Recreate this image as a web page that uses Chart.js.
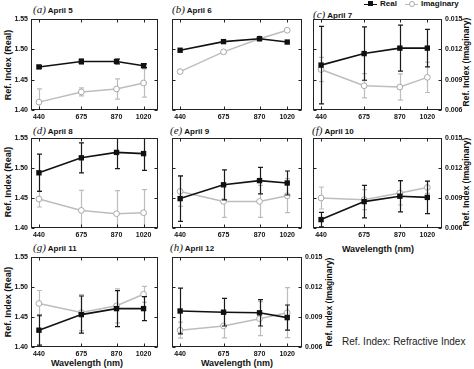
<!DOCTYPE html>
<html><head><meta charset="utf-8">
<script src="https://cdn.jsdelivr.net/npm/chart.js@4"></script>
<style>
html,body{margin:0;padding:0;background:#fff;}
#wrap{position:relative;width:474px;height:369px;overflow:hidden;font-family:"Liberation Sans",Arial,sans-serif;color:#111;}
canvas{position:absolute;left:0;top:0;}
.t{position:absolute;white-space:nowrap;line-height:1;}
.pt{font-weight:bold;font-size:8px;transform:translateY(-50%);}
.pt i{font-family:"Liberation Serif",serif;font-weight:normal;font-size:11px;margin-right:2px;}
.yt{font-weight:bold;font-size:9px;transform:translate(-50%,-50%) rotate(-90deg);}
.yr{font-size:8.5px;}
.xt{font-weight:bold;font-size:9px;transform:translate(-50%,-50%);}
.lg{font-weight:bold;font-size:8px;transform:translateY(-50%);display:flex;align-items:center;}
.ln{display:inline-block;position:relative;width:13px;height:0;border-top:1.5px solid #111;margin-right:3px;}
.ln span{position:absolute;left:4px;top:-4px;width:5px;height:5px;}
</style></head>
<body><div id="wrap">
<div class="t pt" style="left:33px;top:9px"><i>(a)</i>April 5</div>
<div class="t pt" style="left:172px;top:9px"><i>(b)</i>April 6</div>
<div class="t pt" style="left:313px;top:13.5px"><i>(c)</i>April 7</div>
<div class="t pt" style="left:33px;top:130px"><i>(d)</i>April 8</div>
<div class="t pt" style="left:170px;top:130px"><i>(e)</i>April 9</div>
<div class="t pt" style="left:312px;top:130px"><i>(f)</i>April 10</div>
<div class="t pt" style="left:33px;top:247px"><i>(g)</i>April 11</div>
<div class="t pt" style="left:170px;top:247px"><i>(h)</i>April 12</div>

<div class="t lg" style="left:364px;top:4px"><span class="ln"><span style="background:#111"></span></span>Real</div>
<div class="t lg" style="left:405px;top:4px"><span class="ln" style="border-top-color:#bbb"><span style="background:#fff;border:1px solid #aaa;border-radius:50%;width:4px;height:4px;left:3.5px;top:-4px"></span></span>Imaginary</div>

<div class="t yt" style="left:8px;top:65px">Ref. Index (Real)</div>
<div class="t yt" style="left:8px;top:182px">Ref. Index (Real)</div>
<div class="t yt" style="left:8px;top:302px">Ref. Index (Real)</div>
<div class="t yt yr" style="left:466px;top:62px">Ref. Index (Imaginary)</div>
<div class="t yt yr" style="left:466px;top:182px">Ref. Index (Imaginary)</div>
<div class="t yt yr" style="left:329px;top:302px">Ref. Index (Imaginary)</div>

<div class="t xt" style="left:378px;top:249px">Wavelength (nm)</div>
<div class="t xt" style="left:87px;top:363px">Wavelength (nm)</div>
<div class="t xt" style="left:237px;top:363px">Wavelength (nm)</div>

<div class="t" style="left:342px;top:337px;font-size:10px;color:#222">Ref. Index: Refractive Index</div>
</div>
<script>
// ---- data ----
const wavelengths = [440, 675, 870, 1020];
const realTicks = [1.40, 1.45, 1.50, 1.55];
const imagTicks = [0.006, 0.009, 0.012, 0.015];

const real_a = [1.471, 1.480, 1.480, 1.473];
const realErr_a = [0.002, 0.004, 0.004, 0.003];
const imag_a = [0.00678, 0.00779, 0.00808, 0.00867];
const imagErr_a = [0.0013, 0.0004, 0.0010, 0.0014];

const real_b = [1.4985, 1.5127, 1.5175, 1.512];
const realErr_b = [0, 0, 0, 0];
const imag_b = [0.0098, 0.01175, 0.01305, 0.01389];
const imagErr_b = [0, 0, 0, 0];

const real_c = [1.474, 1.493, 1.502, 1.502];
const realErr_c = [0.064, 0.044, 0.038, 0.031];
const imag_c = [0.0100, 0.0084, 0.00827, 0.00923];
const imagErr_c = [0.0012, 0.0012, 0.0013, 0.0015];

const real_d = [1.492, 1.517, 1.526, 1.524];
const realErr_d = [0.031, 0.025, 0.027, 0.028];
const imag_d = [0.0089, 0.00776, 0.00743, 0.00753];
const imagErr_d = [0.0008, 0.0020, 0.0023, 0.0023];

const real_e = [1.449, 1.472, 1.479, 1.475];
const realErr_e = [0.038, 0.025, 0.022, 0.020];
const imag_e = [0.00966, 0.00866, 0.00866, 0.00923];
const imagErr_e = [0.0015, 0.0016, 0.0016, 0.0017];

const real_f = [1.414, 1.444, 1.453, 1.451];
const realErr_f = [0.012, 0.027, 0.026, 0.027];
const imag_f = [0.0090, 0.00883, 0.0095, 0.01006];
const imagErr_f = [0.0011, 0.0010, 0.0012, 0.0006];

const real_g = [1.428, 1.454, 1.464, 1.464];
const realErr_g = [0.025, 0.031, 0.030, 0.020];
const imag_g = [0.01035, 0.00944, 0.01012, 0.01127];
const imagErr_g = [0.0013, 0.0018, 0.0017, 0.0008];

const real_h = [1.460, 1.458, 1.457, 1.449];
const realErr_h = [0.038, 0.023, 0.022, 0.021];
const imag_h = [0.00768, 0.00811, 0.00883, 0.00943];
const imagErr_h = [0.0008, 0.0012, 0.0017, 0.0025];

// ---- layout (plot rectangles) ----
const W = 474, H = 369;
const colX = [[31, 158], [172, 302], [313, 442]];
const rowY = [[19, 110], [138, 228], [257, 347]];
const panels = [
  {real: real_a, rErr: realErr_a, imag: imag_a, iErr: imagErr_a, c: 0, r: 0, yL: true,  yR: false},
  {real: real_b, rErr: realErr_b, imag: imag_b, iErr: imagErr_b, c: 1, r: 0, yL: false, yR: false},
  {real: real_c, rErr: realErr_c, imag: imag_c, iErr: imagErr_c, c: 2, r: 0, yL: false, yR: true},
  {real: real_d, rErr: realErr_d, imag: imag_d, iErr: imagErr_d, c: 0, r: 1, yL: true,  yR: false},
  {real: real_e, rErr: realErr_e, imag: imag_e, iErr: imagErr_e, c: 1, r: 1, yL: false, yR: false},
  {real: real_f, rErr: realErr_f, imag: imag_f, iErr: imagErr_f, c: 2, r: 1, yL: false, yR: true},
  {real: real_g, rErr: realErr_g, imag: imag_g, iErr: imagErr_g, c: 0, r: 2, yL: true,  yR: false},
  {real: real_h, rErr: realErr_h, imag: imag_h, iErr: imagErr_h, c: 1, r: 2, yL: false, yR: true}
];

const FONT = "'Liberation Sans', Arial, sans-serif";

const errPlugin = {
  id: 'errbars',
  beforeDatasetDraw(chart, args) {
    const ds = chart.data.datasets[args.index];
    if (!ds.errors) return;
    const {ctx, chartArea: a} = chart;
    const xs = chart.scales.x, ys = chart.scales[ds.yAxisID];
    ctx.save();
    ctx.beginPath(); ctx.rect(a.left, a.top, a.right - a.left, a.bottom - a.top); ctx.clip();
    ctx.strokeStyle = ds.errColor; ctx.lineWidth = 1.2;
    ds.data.forEach((p, j) => {
      const e = ds.errors[j];
      if (!e) return;
      const x = Math.round(xs.getPixelForValue(p.x)) + 0.5;
      const y1 = ys.getPixelForValue(p.y + e), y2 = ys.getPixelForValue(p.y - e);
      ctx.beginPath();
      ctx.moveTo(x, y1); ctx.lineTo(x, y2);
      ctx.moveTo(x - 2.5, y1); ctx.lineTo(x + 2.5, y1);
      ctx.moveTo(x - 2.5, y2); ctx.lineTo(x + 2.5, y2);
      ctx.stroke();
    });
    ctx.restore();
  }
};

const framePlugin = {
  id: 'frame',
  afterDraw(chart) {
    const {ctx, chartArea: a} = chart;
    const xs = chart.scales.x, yl = chart.scales.y, yr = chart.scales.y1;
    ctx.save();
    ctx.strokeStyle = '#222'; ctx.lineWidth = 1;
    const L = Math.round(a.left) + 0.5, R = Math.round(a.right) - 0.5;
    const T = Math.round(a.top) + 0.5, B = Math.round(a.bottom) - 0.5;
    ctx.strokeRect(L, T, R - L, B - T);
    ctx.beginPath();
    const tl = 3;
    wavelengths.forEach(v => {
      const x = Math.round(xs.getPixelForValue(v)) + 0.5;
      ctx.moveTo(x, T); ctx.lineTo(x, T + tl);
      ctx.moveTo(x, B); ctx.lineTo(x, B - tl);
    });
    realTicks.forEach(v => {
      const y = Math.round(yl.getPixelForValue(v)) + 0.5;
      ctx.moveTo(L, y); ctx.lineTo(L + tl, y);
    });
    imagTicks.forEach(v => {
      const y = Math.round(yr.getPixelForValue(v)) + 0.5;
      ctx.moveTo(R, y); ctx.lineTo(R - tl, y);
    });
    ctx.stroke();
    ctx.restore();
  }
};

const tickFont = {family: FONT, size: 7, weight: 'bold'};
const AXW = 30, AXH = 12;

panels.forEach(p => {
  const cv = document.createElement('canvas');
  cv.width = W; cv.height = H;
  cv.style.width = W + 'px'; cv.style.height = H + 'px';
  document.getElementById('wrap').appendChild(cv);
  const [L, R] = colX[p.c], [T, B] = rowY[p.r];
  const lw = Math.min(AXW, L), rw = Math.min(AXW, W - R);
  new Chart(cv, {
    type: 'line',
    data: {
      datasets: [
        {
          label: 'Real', yAxisID: 'y',
          data: wavelengths.map((x, i) => ({x, y: p.real[i]})),
          errors: p.rErr, errColor: '#1a1a1a',
          borderColor: '#111', backgroundColor: '#111', borderWidth: 1.6,
          pointStyle: 'rect', pointRadius: 3.8, pointBorderWidth: 0,
          pointBackgroundColor: '#111', tension: 0
        },
        {
          label: 'Imaginary', yAxisID: 'y1',
          data: wavelengths.map((x, i) => ({x, y: p.imag[i]})),
          errors: p.iErr, errColor: '#bdbdbd',
          borderColor: '#bdbdbd', backgroundColor: '#fff', borderWidth: 1.5,
          pointStyle: 'circle', pointRadius: 2.9, pointBorderWidth: 1,
          pointBorderColor: '#a8a8a8', pointBackgroundColor: '#fff', tension: 0
        }
      ]
    },
    options: {
      responsive: false, animation: false, devicePixelRatio: 1,
      layout: {padding: {left: L - lw, top: T, right: W - R - rw, bottom: H - B - AXH}},
      plugins: {legend: {display: false}, tooltip: {enabled: false}},
      events: [],
      scales: {
        x: {
          type: 'linear', position: 'bottom', min: 396, max: 1100,
          afterBuildTicks: s => { s.ticks = wavelengths.map(v => ({value: v})); },
          afterFit: s => { s.height = AXH; },
          grid: {display: false, drawTicks: false}, border: {display: false},
          ticks: {display: true, padding: 3, font: tickFont, color: '#111', autoSkip: false, maxRotation: 0,
                  callback: v => String(v)}
        },
        y: {
          type: 'linear', position: 'left', min: 1.40, max: 1.55,
          afterBuildTicks: s => { s.ticks = realTicks.map(v => ({value: v})); },
          afterFit: s => { s.width = lw; },
          grid: {display: false, drawTicks: false}, border: {display: false},
          ticks: {display: p.yL, padding: 3, autoSkip: false, font: tickFont, color: '#111', callback: v => Number(v).toFixed(2)}
        },
        y1: {
          type: 'linear', position: 'right', min: 0.006, max: 0.015,
          afterBuildTicks: s => { s.ticks = imagTicks.map(v => ({value: v})); },
          afterFit: s => { s.width = rw; },
          grid: {display: false, drawTicks: false}, border: {display: false},
          ticks: {display: p.yR, padding: 3, autoSkip: false, font: tickFont, color: '#111', callback: v => Number(v).toFixed(3)}
        }
      }
    },
    plugins: [errPlugin, framePlugin]
  });
});
</script>
</body></html>
